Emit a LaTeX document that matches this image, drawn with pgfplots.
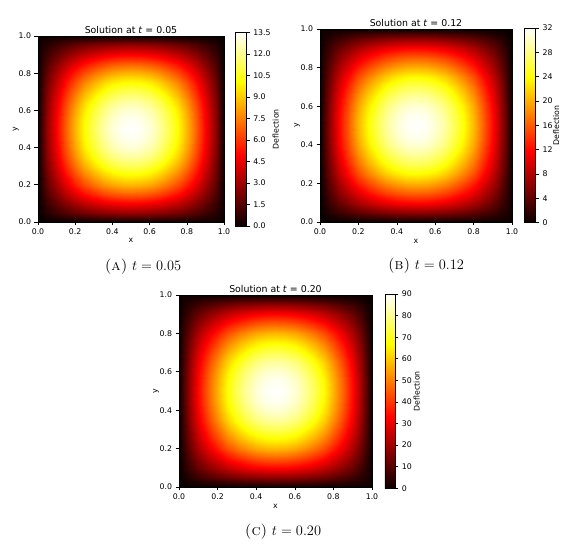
\documentclass[border=0pt]{standalone}
\usepackage{fontspec}
\usepackage{pgfplots}
\usepackage{pgfplotstable}
\pgfplotsset{compat=1.18}
\newfontfamily\djv{DejaVu Sans}
\pgfplotstableread{
x y a b c
0 0 0 0 0
0.05 0 0 0 0
0.1 0 0 0 0
0.15 0 0 0 0
0.2 0 0 0 0
0.25 0 0 0 0
0.3 0 0 0 0
0.35 0 0 0 0
0.4 0 0 0 0
0.45 0 0 0 0
0.5 0 0 0 0
0.55 0 0 0 0
0.6 0 0 0 0
0.65 0 0 0 0
0.7 0 0 0 0
0.75 0 0 0 0
0.8 0 0 0 0
0.85 0 0 0 0
0.9 0 0 0 0
0.95 0 0 0 0
1 0 0 0 0
0 0.05 0 0 0
0.05 0.05 0.58 1.37 3.84
0.1 0.05 1.03 2.44 6.85
0.15 0.05 1.43 3.38 9.50
0.2 0.05 1.78 4.21 11.84
0.25 0.05 2.08 4.92 13.85
0.3 0.05 2.33 5.52 15.53
0.35 0.05 2.53 5.99 16.86
0.4 0.05 2.67 6.34 17.82
0.45 0.05 2.76 6.54 18.40
0.5 0.05 2.79 6.61 18.59
0.55 0.05 2.76 6.54 18.40
0.6 0.05 2.67 6.34 17.82
0.65 0.05 2.53 5.99 16.86
0.7 0.05 2.33 5.52 15.53
0.75 0.05 2.08 4.92 13.85
0.8 0.05 1.78 4.21 11.84
0.85 0.05 1.43 3.38 9.50
0.9 0.05 1.03 2.44 6.85
0.95 0.05 0.58 1.37 3.84
1 0.05 0 0 0
0 0.1 0 0 0
0.05 0.1 1.03 2.44 6.85
0.1 0.1 1.83 4.35 12.22
0.15 0.1 2.54 6.03 16.95
0.2 0.1 3.17 7.51 21.11
0.25 0.1 3.71 8.78 24.70
0.3 0.1 4.15 9.85 27.70
0.35 0.1 4.51 10.69 30.07
0.4 0.1 4.77 11.30 31.78
0.45 0.1 4.92 11.67 32.82
0.5 0.1 4.97 11.79 33.17
0.55 0.1 4.92 11.67 32.82
0.6 0.1 4.77 11.30 31.78
0.65 0.1 4.51 10.69 30.07
0.7 0.1 4.15 9.85 27.70
0.75 0.1 3.71 8.78 24.70
0.8 0.1 3.17 7.51 21.11
0.85 0.1 2.54 6.03 16.95
0.9 0.1 1.83 4.35 12.22
0.95 0.1 1.03 2.44 6.85
1 0.1 0 0 0
0 0.15 0 0 0
0.05 0.15 1.43 3.38 9.50
0.1 0.15 2.54 6.03 16.95
0.15 0.15 3.53 8.36 23.51
0.2 0.15 4.39 10.41 29.28
0.25 0.15 5.14 12.18 34.26
0.3 0.15 5.76 13.66 38.42
0.35 0.15 6.26 14.83 41.70
0.4 0.15 6.61 15.67 44.08
0.45 0.15 6.83 16.18 45.52
0.5 0.15 6.90 16.36 46.00
0.55 0.15 6.83 16.18 45.52
0.6 0.15 6.61 15.67 44.08
0.65 0.15 6.26 14.83 41.70
0.7 0.15 5.76 13.66 38.42
0.75 0.15 5.14 12.18 34.26
0.8 0.15 4.39 10.41 29.28
0.85 0.15 3.53 8.36 23.51
0.9 0.15 2.54 6.03 16.95
0.95 0.15 1.43 3.38 9.50
1 0.15 0 0 0
0 0.2 0 0 0
0.05 0.2 1.78 4.21 11.84
0.1 0.2 3.17 7.51 21.11
0.15 0.2 4.39 10.41 29.28
0.2 0.2 5.47 12.97 36.47
0.25 0.2 6.40 15.17 42.67
0.3 0.2 7.18 17.01 47.85
0.35 0.2 7.79 18.47 51.94
0.4 0.2 8.24 19.52 54.90
0.45 0.2 8.50 20.16 56.69
0.5 0.2 8.59 20.37 57.29
0.55 0.2 8.50 20.16 56.69
0.6 0.2 8.24 19.52 54.90
0.65 0.2 7.79 18.47 51.94
0.7 0.2 7.18 17.01 47.85
0.75 0.2 6.40 15.17 42.67
0.8 0.2 5.47 12.97 36.47
0.85 0.2 4.39 10.41 29.28
0.9 0.2 3.17 7.51 21.11
0.95 0.2 1.78 4.21 11.84
1 0.2 0 0 0
0 0.25 0 0 0
0.05 0.25 2.08 4.92 13.85
0.1 0.25 3.71 8.78 24.70
0.15 0.25 5.14 12.18 34.26
0.2 0.25 6.40 15.17 42.67
0.25 0.25 7.49 17.75 49.93
0.3 0.25 8.40 19.91 55.99
0.35 0.25 9.12 21.61 60.77
0.4 0.25 9.64 22.84 64.24
0.45 0.25 9.95 23.58 66.33
0.5 0.25 10.05 23.83 67.03
0.55 0.25 9.95 23.58 66.33
0.6 0.25 9.64 22.84 64.24
0.65 0.25 9.12 21.61 60.77
0.7 0.25 8.40 19.91 55.99
0.75 0.25 7.49 17.75 49.93
0.8 0.25 6.40 15.17 42.67
0.85 0.25 5.14 12.18 34.26
0.9 0.25 3.71 8.78 24.70
0.95 0.25 2.08 4.92 13.85
1 0.25 0 0 0
0 0.3 0 0 0
0.05 0.3 2.33 5.52 15.53
0.1 0.3 4.15 9.85 27.70
0.15 0.3 5.76 13.66 38.42
0.2 0.3 7.18 17.01 47.85
0.25 0.3 8.40 19.91 55.99
0.3 0.3 9.42 22.32 62.78
0.35 0.3 10.22 24.23 68.15
0.4 0.3 10.81 25.61 72.03
0.45 0.3 11.16 26.45 74.38
0.5 0.3 11.28 26.73 75.17
0.55 0.3 11.16 26.45 74.38
0.6 0.3 10.81 25.61 72.03
0.65 0.3 10.22 24.23 68.15
0.7 0.3 9.42 22.32 62.78
0.75 0.3 8.40 19.91 55.99
0.8 0.3 7.18 17.01 47.85
0.85 0.3 5.76 13.66 38.42
0.9 0.3 4.15 9.85 27.70
0.95 0.3 2.33 5.52 15.53
1 0.3 0 0 0
0 0.35 0 0 0
0.05 0.35 2.53 5.99 16.86
0.1 0.35 4.51 10.69 30.07
0.15 0.35 6.26 14.83 41.70
0.2 0.35 7.79 18.47 51.94
0.25 0.35 9.12 21.61 60.77
0.3 0.35 10.22 24.23 68.15
0.35 0.35 11.10 26.30 73.97
0.4 0.35 11.73 27.80 78.19
0.45 0.35 12.11 28.71 80.74
0.5 0.35 12.24 29.01 81.59
0.55 0.35 12.11 28.71 80.74
0.6 0.35 11.73 27.80 78.19
0.65 0.35 11.10 26.30 73.97
0.7 0.35 10.22 24.23 68.15
0.75 0.35 9.12 21.61 60.77
0.8 0.35 7.79 18.47 51.94
0.85 0.35 6.26 14.83 41.70
0.9 0.35 4.51 10.69 30.07
0.95 0.35 2.53 5.99 16.86
1 0.35 0 0 0
0 0.4 0 0 0
0.05 0.4 2.67 6.34 17.82
0.1 0.4 4.77 11.30 31.78
0.15 0.4 6.61 15.67 44.08
0.2 0.4 8.24 19.52 54.90
0.25 0.4 9.64 22.84 64.24
0.3 0.4 10.81 25.61 72.03
0.35 0.4 11.73 27.80 78.19
0.4 0.4 12.40 29.39 82.65
0.45 0.4 12.80 30.34 85.34
0.5 0.4 12.94 30.67 86.25
0.55 0.4 12.80 30.34 85.34
0.6 0.4 12.40 29.39 82.65
0.65 0.4 11.73 27.80 78.19
0.7 0.4 10.81 25.61 72.03
0.75 0.4 9.64 22.84 64.24
0.8 0.4 8.24 19.52 54.90
0.85 0.4 6.61 15.67 44.08
0.9 0.4 4.77 11.30 31.78
0.95 0.4 2.67 6.34 17.82
1 0.4 0 0 0
0 0.45 0 0 0
0.05 0.45 2.76 6.54 18.40
0.1 0.45 4.92 11.67 32.82
0.15 0.45 6.83 16.18 45.52
0.2 0.45 8.50 20.16 56.69
0.25 0.45 9.95 23.58 66.33
0.3 0.45 11.16 26.45 74.38
0.35 0.45 12.11 28.71 80.74
0.4 0.45 12.80 30.34 85.34
0.45 0.45 13.22 31.33 88.12
0.5 0.45 13.36 31.66 89.06
0.55 0.45 13.22 31.33 88.12
0.6 0.45 12.80 30.34 85.34
0.65 0.45 12.11 28.71 80.74
0.7 0.45 11.16 26.45 74.38
0.75 0.45 9.95 23.58 66.33
0.8 0.45 8.50 20.16 56.69
0.85 0.45 6.83 16.18 45.52
0.9 0.45 4.92 11.67 32.82
0.95 0.45 2.76 6.54 18.40
1 0.45 0 0 0
0 0.5 0 0 0
0.05 0.5 2.79 6.61 18.59
0.1 0.5 4.97 11.79 33.17
0.15 0.5 6.90 16.36 46.00
0.2 0.5 8.59 20.37 57.29
0.25 0.5 10.05 23.83 67.03
0.3 0.5 11.28 26.73 75.17
0.35 0.5 12.24 29.01 81.59
0.4 0.5 12.94 30.67 86.25
0.45 0.5 13.36 31.66 89.06
0.5 0.5 13.5 32 90
0.55 0.5 13.36 31.66 89.06
0.6 0.5 12.94 30.67 86.25
0.65 0.5 12.24 29.01 81.59
0.7 0.5 11.28 26.73 75.17
0.75 0.5 10.05 23.83 67.03
0.8 0.5 8.59 20.37 57.29
0.85 0.5 6.90 16.36 46.00
0.9 0.5 4.97 11.79 33.17
0.95 0.5 2.79 6.61 18.59
1 0.5 0 0 0
0 0.55 0 0 0
0.05 0.55 2.76 6.54 18.40
0.1 0.55 4.92 11.67 32.82
0.15 0.55 6.83 16.18 45.52
0.2 0.55 8.50 20.16 56.69
0.25 0.55 9.95 23.58 66.33
0.3 0.55 11.16 26.45 74.38
0.35 0.55 12.11 28.71 80.74
0.4 0.55 12.80 30.34 85.34
0.45 0.55 13.22 31.33 88.12
0.5 0.55 13.36 31.66 89.06
0.55 0.55 13.22 31.33 88.12
0.6 0.55 12.80 30.34 85.34
0.65 0.55 12.11 28.71 80.74
0.7 0.55 11.16 26.45 74.38
0.75 0.55 9.95 23.58 66.33
0.8 0.55 8.50 20.16 56.69
0.85 0.55 6.83 16.18 45.52
0.9 0.55 4.92 11.67 32.82
0.95 0.55 2.76 6.54 18.40
1 0.55 0 0 0
0 0.6 0 0 0
0.05 0.6 2.67 6.34 17.82
0.1 0.6 4.77 11.30 31.78
0.15 0.6 6.61 15.67 44.08
0.2 0.6 8.24 19.52 54.90
0.25 0.6 9.64 22.84 64.24
0.3 0.6 10.81 25.61 72.03
0.35 0.6 11.73 27.80 78.19
0.4 0.6 12.40 29.39 82.65
0.45 0.6 12.80 30.34 85.34
0.5 0.6 12.94 30.67 86.25
0.55 0.6 12.80 30.34 85.34
0.6 0.6 12.40 29.39 82.65
0.65 0.6 11.73 27.80 78.19
0.7 0.6 10.81 25.61 72.03
0.75 0.6 9.64 22.84 64.24
0.8 0.6 8.24 19.52 54.90
0.85 0.6 6.61 15.67 44.08
0.9 0.6 4.77 11.30 31.78
0.95 0.6 2.67 6.34 17.82
1 0.6 0 0 0
0 0.65 0 0 0
0.05 0.65 2.53 5.99 16.86
0.1 0.65 4.51 10.69 30.07
0.15 0.65 6.26 14.83 41.70
0.2 0.65 7.79 18.47 51.94
0.25 0.65 9.12 21.61 60.77
0.3 0.65 10.22 24.23 68.15
0.35 0.65 11.10 26.30 73.97
0.4 0.65 11.73 27.80 78.19
0.45 0.65 12.11 28.71 80.74
0.5 0.65 12.24 29.01 81.59
0.55 0.65 12.11 28.71 80.74
0.6 0.65 11.73 27.80 78.19
0.65 0.65 11.10 26.30 73.97
0.7 0.65 10.22 24.23 68.15
0.75 0.65 9.12 21.61 60.77
0.8 0.65 7.79 18.47 51.94
0.85 0.65 6.26 14.83 41.70
0.9 0.65 4.51 10.69 30.07
0.95 0.65 2.53 5.99 16.86
1 0.65 0 0 0
0 0.7 0 0 0
0.05 0.7 2.33 5.52 15.53
0.1 0.7 4.15 9.85 27.70
0.15 0.7 5.76 13.66 38.42
0.2 0.7 7.18 17.01 47.85
0.25 0.7 8.40 19.91 55.99
0.3 0.7 9.42 22.32 62.78
0.35 0.7 10.22 24.23 68.15
0.4 0.7 10.81 25.61 72.03
0.45 0.7 11.16 26.45 74.38
0.5 0.7 11.28 26.73 75.17
0.55 0.7 11.16 26.45 74.38
0.6 0.7 10.81 25.61 72.03
0.65 0.7 10.22 24.23 68.15
0.7 0.7 9.42 22.32 62.78
0.75 0.7 8.40 19.91 55.99
0.8 0.7 7.18 17.01 47.85
0.85 0.7 5.76 13.66 38.42
0.9 0.7 4.15 9.85 27.70
0.95 0.7 2.33 5.52 15.53
1 0.7 0 0 0
0 0.75 0 0 0
0.05 0.75 2.08 4.92 13.85
0.1 0.75 3.71 8.78 24.70
0.15 0.75 5.14 12.18 34.26
0.2 0.75 6.40 15.17 42.67
0.25 0.75 7.49 17.75 49.93
0.3 0.75 8.40 19.91 55.99
0.35 0.75 9.12 21.61 60.77
0.4 0.75 9.64 22.84 64.24
0.45 0.75 9.95 23.58 66.33
0.5 0.75 10.05 23.83 67.03
0.55 0.75 9.95 23.58 66.33
0.6 0.75 9.64 22.84 64.24
0.65 0.75 9.12 21.61 60.77
0.7 0.75 8.40 19.91 55.99
0.75 0.75 7.49 17.75 49.93
0.8 0.75 6.40 15.17 42.67
0.85 0.75 5.14 12.18 34.26
0.9 0.75 3.71 8.78 24.70
0.95 0.75 2.08 4.92 13.85
1 0.75 0 0 0
0 0.8 0 0 0
0.05 0.8 1.78 4.21 11.84
0.1 0.8 3.17 7.51 21.11
0.15 0.8 4.39 10.41 29.28
0.2 0.8 5.47 12.97 36.47
0.25 0.8 6.40 15.17 42.67
0.3 0.8 7.18 17.01 47.85
0.35 0.8 7.79 18.47 51.94
0.4 0.8 8.24 19.52 54.90
0.45 0.8 8.50 20.16 56.69
0.5 0.8 8.59 20.37 57.29
0.55 0.8 8.50 20.16 56.69
0.6 0.8 8.24 19.52 54.90
0.65 0.8 7.79 18.47 51.94
0.7 0.8 7.18 17.01 47.85
0.75 0.8 6.40 15.17 42.67
0.8 0.8 5.47 12.97 36.47
0.85 0.8 4.39 10.41 29.28
0.9 0.8 3.17 7.51 21.11
0.95 0.8 1.78 4.21 11.84
1 0.8 0 0 0
0 0.85 0 0 0
0.05 0.85 1.43 3.38 9.50
0.1 0.85 2.54 6.03 16.95
0.15 0.85 3.53 8.36 23.51
0.2 0.85 4.39 10.41 29.28
0.25 0.85 5.14 12.18 34.26
0.3 0.85 5.76 13.66 38.42
0.35 0.85 6.26 14.83 41.70
0.4 0.85 6.61 15.67 44.08
0.45 0.85 6.83 16.18 45.52
0.5 0.85 6.90 16.36 46.00
0.55 0.85 6.83 16.18 45.52
0.6 0.85 6.61 15.67 44.08
0.65 0.85 6.26 14.83 41.70
0.7 0.85 5.76 13.66 38.42
0.75 0.85 5.14 12.18 34.26
0.8 0.85 4.39 10.41 29.28
0.85 0.85 3.53 8.36 23.51
0.9 0.85 2.54 6.03 16.95
0.95 0.85 1.43 3.38 9.50
1 0.85 0 0 0
0 0.9 0 0 0
0.05 0.9 1.03 2.44 6.85
0.1 0.9 1.83 4.35 12.22
0.15 0.9 2.54 6.03 16.95
0.2 0.9 3.17 7.51 21.11
0.25 0.9 3.71 8.78 24.70
0.3 0.9 4.15 9.85 27.70
0.35 0.9 4.51 10.69 30.07
0.4 0.9 4.77 11.30 31.78
0.45 0.9 4.92 11.67 32.82
0.5 0.9 4.97 11.79 33.17
0.55 0.9 4.92 11.67 32.82
0.6 0.9 4.77 11.30 31.78
0.65 0.9 4.51 10.69 30.07
0.7 0.9 4.15 9.85 27.70
0.75 0.9 3.71 8.78 24.70
0.8 0.9 3.17 7.51 21.11
0.85 0.9 2.54 6.03 16.95
0.9 0.9 1.83 4.35 12.22
0.95 0.9 1.03 2.44 6.85
1 0.9 0 0 0
0 0.95 0 0 0
0.05 0.95 0.58 1.37 3.84
0.1 0.95 1.03 2.44 6.85
0.15 0.95 1.43 3.38 9.50
0.2 0.95 1.78 4.21 11.84
0.25 0.95 2.08 4.92 13.85
0.3 0.95 2.33 5.52 15.53
0.35 0.95 2.53 5.99 16.86
0.4 0.95 2.67 6.34 17.82
0.45 0.95 2.76 6.54 18.40
0.5 0.95 2.79 6.61 18.59
0.55 0.95 2.76 6.54 18.40
0.6 0.95 2.67 6.34 17.82
0.65 0.95 2.53 5.99 16.86
0.7 0.95 2.33 5.52 15.53
0.75 0.95 2.08 4.92 13.85
0.8 0.95 1.78 4.21 11.84
0.85 0.95 1.43 3.38 9.50
0.9 0.95 1.03 2.44 6.85
0.95 0.95 0.58 1.37 3.84
1 0.95 0 0 0
0 1 0 0 0
0.05 1 0 0 0
0.1 1 0 0 0
0.15 1 0 0 0
0.2 1 0 0 0
0.25 1 0 0 0
0.3 1 0 0 0
0.35 1 0 0 0
0.4 1 0 0 0
0.45 1 0 0 0
0.5 1 0 0 0
0.55 1 0 0 0
0.6 1 0 0 0
0.65 1 0 0 0
0.7 1 0 0 0
0.75 1 0 0 0
0.8 1 0 0 0
0.85 1 0 0 0
0.9 1 0 0 0
0.95 1 0 0 0
1 1 0 0 0
}\field
\pgfplotsset{
  colormap={mplhot}{rgb(0cm)=(0.0416,0,0) rgb(3.65079cm)=(1,0,0) rgb(7.46032cm)=(1,1,0) rgb(10cm)=(1,1,1)},
  every axis/.append style={font=\djv\fontsize{7.8}{9}\selectfont},
  /pgf/number format/assume math mode=true,
  heat/.style={scale only axis, enlargelimits=false,
    xmin=0, xmax=1, ymin=0, ymax=1, axis on top,
    tick align=outside, xtick pos=bottom, ytick pos=left,
    major tick length=3.5pt,
    xtick={0,0.2,0.4,0.6,0.8,1}, ytick={0,0.2,0.4,0.6,0.8,1},
    xticklabel style={/pgf/number format/.cd, fixed, fixed zerofill, precision=1},
    yticklabel style={/pgf/number format/.cd, fixed, fixed zerofill, precision=1},
    xlabel={x}, ylabel={y},
    every axis x label/.style={at={(axis description cs:0.5,-0.11)}, anchor=base},
    every axis y label/.style={at={(axis description cs:-0.112,0.5)}, rotate=90, anchor=base},
    every axis title/.style={at={(axis description cs:0.5,1)}, anchor=base, yshift=2pt,
      font=\djv\fontsize{9.4}{11}\selectfont},
    axis line style={line width=0.6pt, black},
    every tick/.append style={line width=0.6pt, black},
    colorbar},
  cbar/.style={scale only axis, at={(parent axis.north east)}, anchor=north west,
    tick align=outside, major tick length=3.5pt,
    ytick pos=right, yticklabel pos=right,
    ylabel={Deflection},
    axis line style={line width=0.6pt, black},
    every tick/.append style={line width=0.6pt, black}}
}
\begin{document}
\begin{tikzpicture}
\path[use as bounding box] (0pt,0pt) rectangle (573pt,551pt);
% (A)
\begin{axis}[heat, at={(38pt,329pt)}, anchor=south west, width=186pt, height=186pt,
  title={Solution at \textit{t} = 0.05},
  point meta min=0, point meta max=13.5,
  colorbar style={cbar, xshift=3pt, yshift=3.7pt, width=10.7pt, height=193.7pt,
    every axis y label/.style={at={(axis description cs:4.02,0.5)}, rotate=90, anchor=base},
    ytick={0,1.5,3,4.5,6,7.5,9,10.5,12,13.5},
    yticklabel style={/pgf/number format/.cd, fixed, fixed zerofill, precision=1}}]
\addplot[surf, shader=interp, mesh/cols=21, point meta=\thisrow{a}] table[x=x, y=y] {\field};
\end{axis}
% (B)
\begin{axis}[heat, at={(320pt,329pt)}, anchor=south west, width=192pt, height=193pt,
  title={Solution at \textit{t} = 0.12},
  point meta min=0, point meta max=32,
  colorbar style={cbar, xshift=4pt, yshift=1pt, width=11pt, height=194.7pt,
    every axis y label/.style={at={(axis description cs:3.14,0.5)}, rotate=90, anchor=base},
    ytick={0,4,8,12,16,20,24,28,32}}]
\addplot[surf, shader=interp, mesh/cols=21, point meta=\thisrow{b}] table[x=x, y=y] {\field};
\end{axis}
% (C)
\begin{axis}[heat, at={(179pt,64pt)}, anchor=south west, width=193pt, height=192pt,
  title={Solution at \textit{t} = 0.20},
  point meta min=0, point meta max=90,
  colorbar style={cbar, xshift=4.3pt, yshift=1pt, width=10pt, height=194.3pt,
    every axis y label/.style={at={(axis description cs:3.47,0.5)}, rotate=90, anchor=base},
    ytick={0,10,20,30,40,50,60,70,80,90}}]
\addplot[surf, shader=interp, mesh/cols=21, point meta=\thisrow{c}] table[x=x, y=y] {\field};
\end{axis}
\node[font=\fontsize{15.3}{18}\selectfont] at (143pt,284pt) {\textsc{(a)} $t = 0.05$};
\node[font=\fontsize{15.3}{18}\selectfont] at (426pt,285pt) {\textsc{(b)} $t = 0.12$};
\node[font=\fontsize{15.3}{18}\selectfont] at (283pt,19pt) {\textsc{(c)} $t = 0.20$};
\end{tikzpicture}
\end{document}
